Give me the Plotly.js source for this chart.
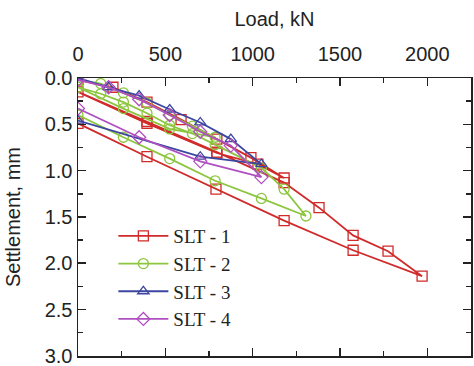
<!DOCTYPE html>
<html>
<head>
<meta charset="utf-8">
<script src="https://cdn.plot.ly/plotly-3.0.1.min.js"></script>
<style>html,body{margin:0;padding:0;background:#fff;}#chart{width:474px;height:366px;}</style>
</head>
<body>
<div id="chart"></div>
<script>
// SLT-1 (load, kN / settlement, mm)
var slt1Load = [0, 200, 395, 590, 795, 990, 1180, 1030, 795, 395, 0, 395, 795, 1180, 1380, 1575, 1775, 1970, 1575, 1180, 790, 395, 0];
var slt1Sett = [0.02, 0.10, 0.26, 0.45, 0.66, 0.86, 1.08, 0.93, 0.81, 0.49, 0.15, 0.47, 0.80, 1.13, 1.40, 1.70, 1.87, 2.14, 1.86, 1.54, 1.20, 0.85, 0.49];
// SLT-2
var slt2Load = [0, 130, 260, 395, 525, 655, 785, 525, 260, 0, 130, 260, 395, 525, 655, 785, 1050, 1180, 1305, 1050, 785, 525, 260, 0];
var slt2Sett = [0.02, 0.06, 0.16, 0.27, 0.40, 0.52, 0.64, 0.55, 0.33, 0.10, 0.17, 0.26, 0.38, 0.51, 0.60, 0.72, 0.97, 1.20, 1.49, 1.30, 1.11, 0.87, 0.64, 0.40];
// SLT-3
var slt3Load = [0, 175, 350, 525, 700, 875, 1050, 700, 0];
var slt3Sett = [0.00, 0.10, 0.19, 0.34, 0.48, 0.66, 0.93, 0.85, 0.46];
// SLT-4
var slt4Load = [0, 175, 350, 525, 700, 875, 1050, 700, 350, 0];
var slt4Sett = [0.02, 0.10, 0.23, 0.40, 0.58, 0.73, 1.07, 0.90, 0.64, 0.33];

var names = ['SLT - 1', 'SLT - 2', 'SLT - 3', 'SLT - 4'];
var colors = ['#d02a2a', '#8cc63e', '#3c46a0', '#b050c0'];
var symbols = ['square-open', 'circle-open', 'triangle-up-open', 'diamond-open'];
var xs = [slt1Load, slt2Load, slt3Load, slt4Load];
var ys = [slt1Sett, slt2Sett, slt3Sett, slt4Sett];

var traces = xs.map(function (x, i) {
  return {
    x: x, y: ys[i], name: names[i], type: 'scatter', mode: 'lines+markers',
    line: {color: colors[i], width: 1.8},
    marker: {symbol: symbols[i], size: 10, color: colors[i], line: {color: colors[i], width: 1.3}}
  };
});

var axisFont = {family: 'Liberation Sans, Arial, sans-serif', size: 20, color: '#222'};
var layout = {
  width: 474, height: 366,
  margin: {l: 78, r: 3, t: 78, b: 10},
  paper_bgcolor: '#fff', plot_bgcolor: '#fff',
  showlegend: true,
  legend: {x: 0.09, y: 0.50, xanchor: 'left', yanchor: 'top', bgcolor: 'rgba(0,0,0,0)',
    font: {family: 'Liberation Serif, Times New Roman, serif', size: 19, color: '#222'},
    itemwidth: 50, tracegroupgap: 0},
  xaxis: {
    side: 'top', range: [0, 2250], dtick: 500, tick0: 0,
    ticks: 'inside', ticklen: 8, tickwidth: 1.5, tickcolor: '#222',
    minor: {dtick: 250, ticks: 'inside', ticklen: 5, tickwidth: 1.5, tickcolor: '#222'},
    showgrid: false, zeroline: false, mirror: 'allticks', showline: true, linecolor: '#222', linewidth: 1.5,
    tickfont: axisFont, ticklabelstandoff: 8,
    title: {text: 'Load, kN', font: axisFont, standoff: 10}
  },
  yaxis: {
    range: [3.002, 0], dtick: 0.5, tick0: 0, tickformat: '.1f',
    ticks: 'inside', ticklen: 8, tickwidth: 1.5, tickcolor: '#222',
    minor: {dtick: 0.25, ticks: 'inside', ticklen: 5, tickwidth: 1.5, tickcolor: '#222'},
    showgrid: false, zeroline: false, mirror: 'allticks', showline: true, linecolor: '#222', linewidth: 1.5,
    tickfont: axisFont, ticklabeloverflow: 'allow',
    title: {text: 'Settlement, mm', font: axisFont, standoff: 18}
  }
};

Plotly.newPlot('chart', traces, layout, {displayModeBar: false, staticPlot: true});
</script>
</body>
</html>
